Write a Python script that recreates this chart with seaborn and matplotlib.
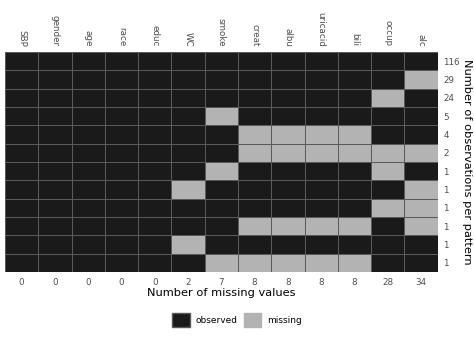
import numpy as np
import pandas as pd
import seaborn as sns
import matplotlib.pyplot as plt
from matplotlib.colors import ListedColormap
from matplotlib.patches import Patch

# variables (columns), pattern counts (rows) and missing per variable
variables = ['SBP', 'gender', 'age', 'race', 'educ', 'WC', 'smoke',
             'creat', 'albu', 'uricacid', 'bili', 'occup', 'alc']
pattern_counts = [116, 29, 24, 5, 4, 2, 1, 1, 1, 1, 1, 1]
missing_per_var = [0, 0, 0, 0, 0, 2, 7, 8, 8, 8, 8, 28, 34]

# 1 = observed, 0 = missing
patterns = [
    [1, 1, 1, 1, 1, 1, 1, 1, 1, 1, 1, 1, 1],
    [1, 1, 1, 1, 1, 1, 1, 1, 1, 1, 1, 1, 0],
    [1, 1, 1, 1, 1, 1, 1, 1, 1, 1, 1, 0, 1],
    [1, 1, 1, 1, 1, 1, 0, 1, 1, 1, 1, 1, 1],
    [1, 1, 1, 1, 1, 1, 1, 0, 0, 0, 0, 1, 1],
    [1, 1, 1, 1, 1, 1, 1, 0, 0, 0, 0, 0, 0],
    [1, 1, 1, 1, 1, 1, 0, 1, 1, 1, 1, 0, 1],
    [1, 1, 1, 1, 1, 0, 1, 1, 1, 1, 1, 1, 0],
    [1, 1, 1, 1, 1, 1, 1, 1, 1, 1, 1, 0, 0],
    [1, 1, 1, 1, 1, 1, 1, 0, 0, 0, 0, 1, 0],
    [1, 1, 1, 1, 1, 0, 1, 1, 1, 1, 1, 1, 1],
    [1, 1, 1, 1, 1, 1, 0, 0, 0, 0, 0, 1, 1],
]

df = pd.DataFrame(patterns, columns=variables)

obs_col = '#1a1a1a'
mis_col = '#b3b3b3'
txt_col = '#4d4d4d'

fig = plt.figure(figsize=(4.74, 3.38), dpi=100)
ax = fig.add_axes([0.0105, 0.195, 0.913, 0.651])

sns.heatmap(df, ax=ax, cmap=ListedColormap([mis_col, obs_col]), vmin=0, vmax=1,
            cbar=False, linewidths=0.6, linecolor='#5a5a5a')

# column names on top
ax.xaxis.tick_top()
ax.set_xticklabels(variables, rotation=-90, fontsize=6.3, color=txt_col)
ax.tick_params(axis='x', length=0, pad=4)
ax.set_xlabel(None)

# counts of missing per variable at the bottom
sec = ax.secondary_xaxis('bottom')
sec.set_xticks(np.arange(len(variables)) + 0.5)
sec.set_xticklabels([str(v) for v in missing_per_var], fontsize=6.3, color=txt_col)
sec.tick_params(length=0, pad=4)
for s in sec.spines.values():
    s.set_visible(False)
sec.set_xlabel('Number of missing values', fontsize=8.2, labelpad=1)

# pattern counts on the right
ax.yaxis.tick_right()
ax.set_yticks(np.arange(len(pattern_counts)) + 0.5)
ax.set_yticklabels([str(c) for c in pattern_counts], rotation=0, fontsize=6.3, color=txt_col)
ax.tick_params(axis='y', length=0, pad=4)
ax.yaxis.set_label_position('right')
ax.set_ylabel('Number of observations per pattern', rotation=-90, fontsize=8.2, labelpad=9)

handles = [Patch(facecolor=obs_col, edgecolor='#5a5a5a', label='observed'),
           Patch(facecolor=mis_col, edgecolor='#b3b3b3', label='missing')]
fig.legend(handles=handles, loc='center', bbox_to_anchor=(0.5, 0.053), ncol=2,
           frameon=False, fontsize=6.5, handlelength=1.9, handleheight=1.9,
           columnspacing=0.8, handletextpad=0.6)

fig.savefig('out.png', dpi=100)
